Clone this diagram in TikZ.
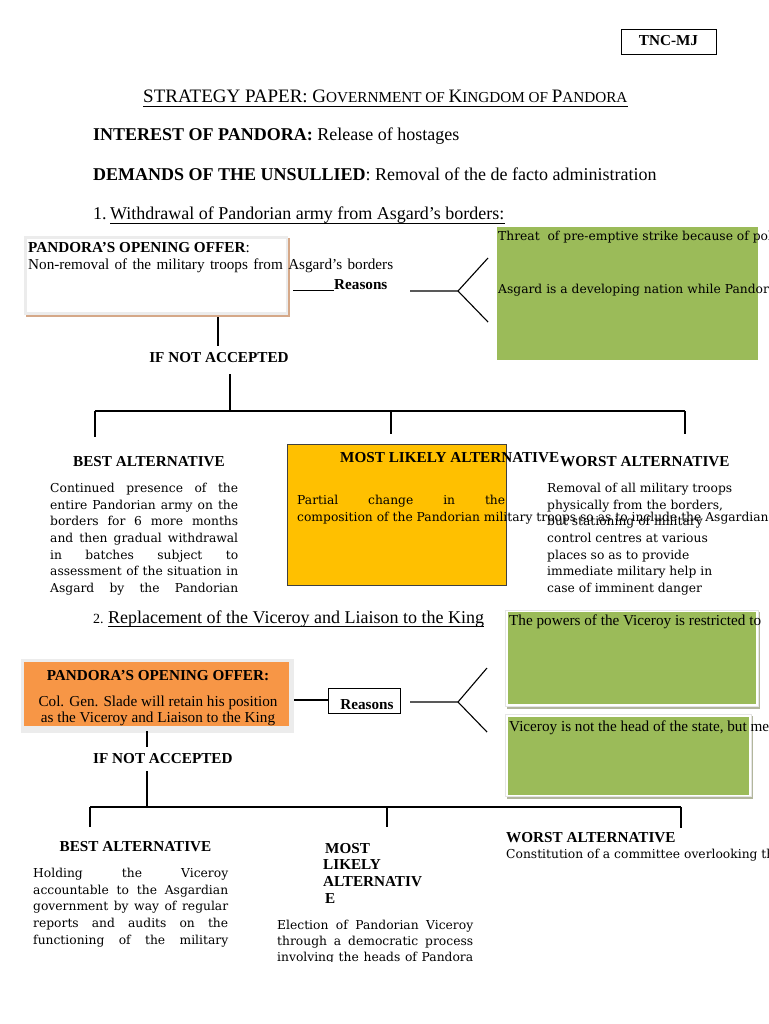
\documentclass[tikz,border=0pt]{standalone}
\usepackage{fontspec}
\setmainfont{Liberation Serif}
\newfontfamily\dvs{DejaVu Serif}
\usetikzlibrary{calc}
\newcommand\szBig{\fontsize{18}{21}\selectfont}
\newcommand\szTitle{\fontsize{19}{22}\selectfont}
\newcommand\szSC{\fontsize{15.2}{18}\selectfont}
\newcommand\szMid{\fontsize{15.2}{17.5}\selectfont}
\newcommand\szNum{\fontsize{14}{17}\selectfont}
\newcommand\szBody{\dvs\fontsize{12.3}{16.67}\selectfont}
\definecolor{grn}{HTML}{9BBB59}
\definecolor{orgA}{HTML}{FFC000}
\definecolor{orgB}{HTML}{F79646}
\definecolor{tanS}{HTML}{D5A888}
\definecolor{frameG}{HTML}{ECECEC}
\definecolor{shadG}{HTML}{B2B69C}
\tikzset{
  txt/.style={inner sep=0pt, anchor=base west},
  ctxt/.style={inner sep=0pt, anchor=base},
  ln/.style={line width=1.1pt, black},
  boxn/.style={inner sep=0pt, anchor=north west},
}
\begin{document}
\begin{tikzpicture}[x=1pt,y=-1pt]
\useasboundingbox (0,0) rectangle (768,1024);
\fill[white] (0,0) rectangle (768,1024);

% header box
\node[boxn, draw, line width=1pt, minimum width=95pt, minimum height=25pt] (tncbox) at (621,29) {};
\node[ctxt, font=\szMid\bfseries] (tnc) at (668.5,46) {TNC-MJ};

% title
\node[txt] (title) at (143,103) {\szTitle STRATEGY PAPER: G{\szSC OVERNMENT OF }K{\szSC INGDOM OF }P{\szSC ANDORA}};
\draw[line width=0.9pt] ($(title.base west)+(0,3)$) -- ($(title.base east)+(0,3)$);

\node[txt, font=\szBig] (interest) at (93,141) {\textbf{INTEREST OF PANDORA:} Release of hostages};
\node[txt, font=\szBig] (demands) at (93,181) {\textbf{DEMANDS OF THE UNSULLIED}: Removal of the de facto administration};

\node[txt, font=\szBig] (num1) at (93,220) {1.};
\node[txt, font=\szBig] (sec1) at (110,220) {Withdrawal of Pandorian army from Asgard’s borders:};
\draw[line width=0.9pt] ($(sec1.base west)+(0,3)$) -- ($(sec1.base east)+(0,3)$);

% opening offer box 1
\fill[tanS] (26,238) rectangle (290,317);
\node[boxn, fill=frameG, minimum width=264pt, minimum height=79pt] (offer1) at (24,236) {};
\fill[white] (27,239) rectangle (286,312);
\node[txt, font=\szMid] (offer1h) at (28,252) {\textbf{PANDORA’S OPENING OFFER}:};
\node[txt, font=\szMid] (offer1t) at (28,269) {\makebox[365pt][s]{Non-removal of the military troops from Asgard’s borders}};
\node[txt, font=\szMid] (reasons1) at (293,289) {\rule[-1.6pt]{41pt}{0.9pt}\textbf{Reasons}};

% reasons fork 1
\coordinate (r1a) at (410,291);
\coordinate (f1) at (458,291);
\coordinate (f1u) at (488,258);
\coordinate (f1d) at (488,322);
\draw[ln] (r1a) -- (f1) -- (f1u);
\draw[ln] (f1) -- (f1d);

% green box 1
\node[boxn, fill=grn, minimum width=261pt, minimum height=133pt] (green1) at (497,227) {};
\node[txt, font=\szBody] (g1a) at (498,240.5) {Threat\ \ of pre-emptive strike because of pol};
\node[txt, font=\szBody] (g1b) at (498,293.5) {Asgard is a developing nation while Pandor};

% if not accepted 1
\node[ctxt, font=\szMid\bfseries] (ina1) at (219,362.5) {IF NOT ACCEPTED};
\coordinate (v1a) at (218,317);
\coordinate (v1b) at (218,346);
\draw[ln] (v1a) -- (v1b);
\coordinate (v1c) at (230,374);
\coordinate (t1) at (230,411);
\draw[ln] (v1c) -- (t1);
\coordinate (t1l) at (95,411);
\coordinate (t1m) at (391,411);
\coordinate (t1r) at (685,411);
\draw[ln] (t1l) -- (t1r);
\draw[ln] (t1l) -- ++(0,26);
\draw[ln] (t1m) -- ++(0,23);
\draw[ln] (t1r) -- ++(0,23);

% best alternative 1
\node[ctxt, font=\szMid\bfseries] (best1) at (149,466) {BEST ALTERNATIVE};
\foreach \t [count=\i from 0] in {Continued presence of the,entire Pandorian army on the,borders for 6 more months,and then gradual withdrawal,in batches subject to,assessment of the situation in,Asgard by the Pandorian}
  \node[txt, font=\szBody] (b1l\i) at (50,{492.5+16.67*\i}) {\makebox[188pt][s]{\t}};

% worst alternative 1
\node[txt, font=\szMid\bfseries] (worst1) at (560,466) {WORST ALTERNATIVE};
\foreach \t [count=\i from 0] in {Removal of all military troops,{physically from the borders,},but stationing of military,control centres at various,places so as to provide,immediate military help in,case of imminent danger}
  \node[txt, font=\szBody] (w1l\i) at (547,{492.5+16.67*\i}) {\t};

% most likely 1
\node[boxn, fill=orgA, draw=black!75, line width=1pt, minimum width=219pt, minimum height=141pt] (most1) at (287,444) {};
\node[txt, font=\szMid\bfseries] (most1h) at (340,462) {MOST LIKELY ALTERNATIVE};
\node[txt, font=\szBody] (most1a) at (297,504.5) {\makebox[208pt][s]{Partial change in the}};
\node[txt, font=\szBody] (most1b) at (297,521) {composition of the Pandorian military troops so as to include the Asgardians};

% section 2
\node[txt, font=\szNum] (num2) at (93,623) {2.};
\node[txt, font=\szBig] (sec2) at (108,623) {Replacement of the Viceroy and Liaison to the King};
\draw[line width=0.9pt] ($(sec2.base west)+(0,3.5)$) -- ($(sec2.base east)+(0,3.5)$);

% opening offer box 2
\node[boxn, fill=frameG, minimum width=273pt, minimum height=74pt] (offer2o) at (21,659) {};
\node[boxn, fill=orgB, minimum width=265pt, minimum height=64pt] (offer2) at (24,662) {};
\node[ctxt, font=\szMid\bfseries] (offer2h) at (158,680) {PANDORA’S OPENING OFFER:};
\node[ctxt, font=\szMid] (offer2a) at (158,706) {Col. Gen. Slade will retain his position};
\node[ctxt, font=\szMid] (offer2b) at (158,722.5) {as the Viceroy and Liaison to the King};

% reasons 2
\node[boxn, fill=white, draw, line width=1pt, minimum width=72pt, minimum height=25pt] (rbox2) at (328,688) {};
\node[ctxt, font=\szMid\bfseries] (reasons2) at (367,709) {Reasons};
\coordinate (o2r) at (294,700);
\draw[ln] (o2r) -- (rbox2.west |- o2r);
\coordinate (r2a) at (410,702);
\coordinate (f2) at (458,702);
\coordinate (f2u) at (487,668);
\coordinate (f2d) at (487,732);
\draw[ln] (r2a) -- (f2) -- (f2u);
\draw[ln] (f2) -- (f2d);

% green boxes 2
\fill[shadG] (507,612) rectangle (760,709);
\node[boxn, fill=white, draw=black!10, line width=0.6pt, minimum width=253pt, minimum height=96pt] (green2ao) at (505,610) {};
\node[boxn, fill=grn, minimum width=248pt, minimum height=92pt] (green2a) at (508,612) {};
\node[txt, font=\szMid] (g2a) at (509,625) {The powers of the Viceroy is restricted to};
\fill[shadG] (507,716) rectangle (753,799);
\node[boxn, fill=white, draw=black!10, line width=0.6pt, minimum width=246pt, minimum height=82pt] (green2bo) at (505,714) {};
\node[boxn, fill=grn, minimum width=241pt, minimum height=78pt] (green2b) at (508,717) {};
\node[txt, font=\szMid] (g2b) at (509,731) {Viceroy is not the head of the state, but me};

% if not accepted 2
\node[txt, font=\szMid\bfseries] (ina2) at (93,763.5) {IF NOT ACCEPTED};
\coordinate (v2a) at (147,731);
\coordinate (v2b) at (147,747);
\draw[ln] (v2a) -- (v2b);
\coordinate (v2c) at (147,771);
\coordinate (t2) at (147,807);
\draw[ln] (v2c) -- (t2);
\coordinate (t2l) at (90,807);
\coordinate (t2m) at (387,807);
\coordinate (t2r) at (681,807);
\draw[ln] (t2l) -- (t2r);
\draw[ln] (t2l) -- ++(0,20);
\draw[ln] (t2m) -- ++(0,20);
\draw[ln] (t2r) -- ++(0,21);

% best alternative 2
\node[ctxt, font=\szMid\bfseries] (best2) at (135.5,851.5) {BEST ALTERNATIVE};
\foreach \t [count=\i from 0] in {Holding the Viceroy,accountable to the Asgardian,government by way of regular,reports and audits on the,functioning of the military}
  \node[txt, font=\szBody] (b2l\i) at (33,{877.5+16.67*\i}) {\makebox[195pt][s]{\t}};

% most likely 2
\node[txt, font=\szMid\bfseries] (m2a) at (325,853) {MOST};
\node[txt, font=\szMid\bfseries] (m2b) at (323,869.5) {LIKELY};
\node[txt, font=\szMid\bfseries] (m2c) at (323,886.5) {ALTERNATIV};
\node[txt, font=\szMid\bfseries] (m2d) at (325,903.5) {E};
\begin{scope}
\clip (0,0) rectangle (768,961.5);
\foreach \t [count=\i from 0] in {Election of Pandorian Viceroy,through a democratic process,involving the heads of Pandora}
  \node[txt, font=\szBody] (m2l\i) at (277,{929.5+16*\i}) {\makebox[196pt][s]{\t}};
\end{scope}

% worst alternative 2
\node[txt, font=\szMid\bfseries] (worst2) at (506,842) {WORST ALTERNATIVE};
\node[txt, font=\szBody] (worst2t) at (506,858.5) {Constitution of a committee overlooking th};
\end{tikzpicture}
\end{document}
